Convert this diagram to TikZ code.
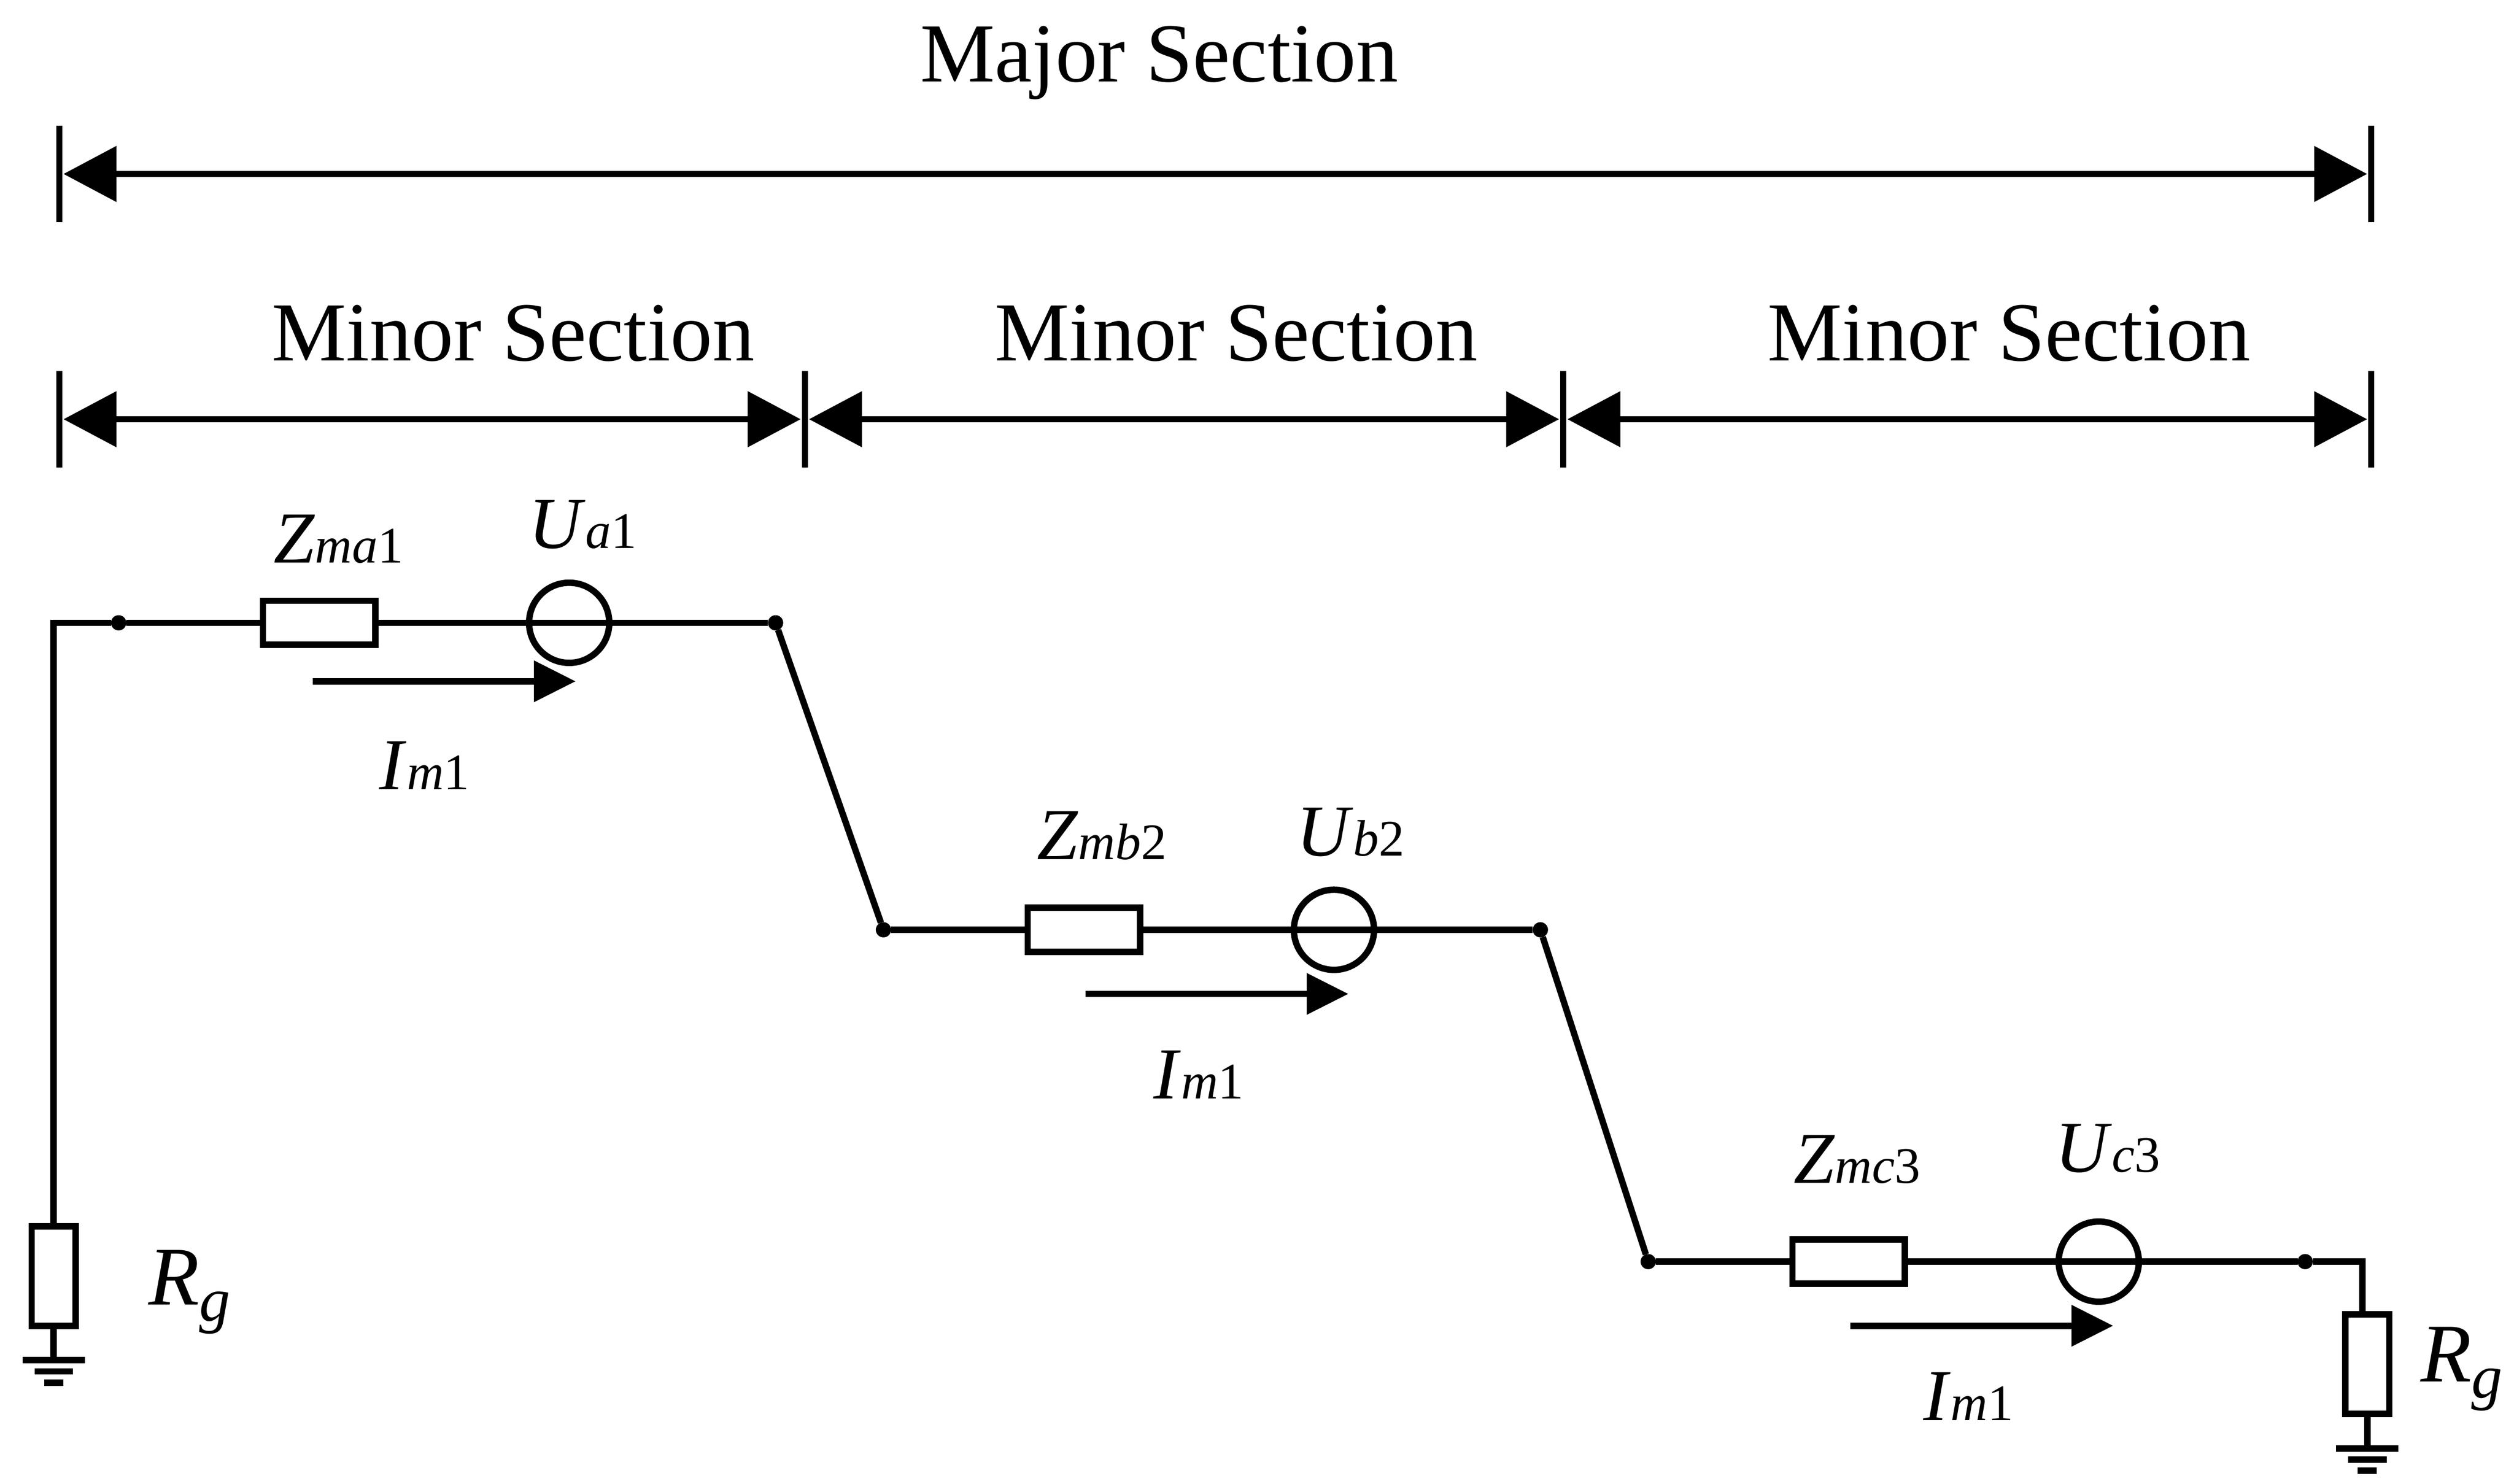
\documentclass[tikz,border=0pt]{standalone}
\usepackage{fontspec}
\setmainfont{Liberation Serif}
\usetikzlibrary{arrows.meta, positioning}
\newcommand{\elabel}[3]{\textit{#1}{\fontsize{9.1pt}{10pt}\selectfont\textit{#2}#3}}
\newcommand{\glabel}{\textit{R}\raisebox{-1mm}{\fontsize{11pt}{12pt}\selectfont\textit{g}}}

\begin{document}
\begin{tikzpicture}[
        x=0.1mm, y=-0.1mm,
        tick/.style={rectangle, fill=black, inner sep=0pt, minimum width=0.38mm, minimum height=6mm},
        dim/.style={{Triangle[length=3.3mm,width=3.4mm]}-{Triangle[length=3.3mm,width=3.4mm]}, line width=0.38mm},
        title/.style={anchor=base, inner sep=0pt, font=\fontsize{14.9pt}{16pt}\selectfont},
        lbl/.style={anchor=base west, inner sep=0pt, font=\fontsize{13pt}{15pt}\selectfont},
        wire/.style={line width=0.4mm},
        dot/.style={circle, fill=black, inner sep=0pt, outer sep=0pt, minimum size=0.95mm},
        res/.style={rectangle, draw, fill=white, line width=0.4mm, inner sep=0pt, outer sep=0pt, minimum width=7mm, minimum height=2.75mm},
        resv/.style={res, minimum width=2.75mm, minimum height=6.2mm},
        src/.style={circle, draw, line width=0.4mm, inner sep=0pt, outer sep=0pt, minimum size=5mm},
        arrow/.style={-{Triangle[length=2.6mm,width=2.5mm]}, line width=0.4mm},
        gnd/.pic={
            \draw[wire] (-19.5,0) -- (19.5,0);
            \draw[wire] (-12,7) -- (12,7);
            \draw[wire] (-6,14) -- (6,14);
        }
    ]
        \useasboundingbox (0,0) rectangle (1568,925.45);

        % section bars
        \node[title] (major) at (723,51) {Major Section};
        \node[tick] (ma) at (37,108.5) {};
        \node[tick] (mb) at (1479,108.5) {};
        \draw[dim] (ma) -- (mb);

        \node[title] (minora) at (320,225) {Minor Section};
        \node[title] (minorb) at (771,225) {Minor Section};
        \node[title] (minorc) at (1253,225) {Minor Section};
        \node[tick] (na) at (37,261.5) {};
        \node[tick] (nb) at (502,261.5) {};
        \node[tick] (nc) at (975,261.5) {};
        \node[tick] (nd) at (1479,261.5) {};
        \draw[dim] (na) -- (nb);
        \draw[dim] (nb) -- (nc);
        \draw[dim] (nc) -- (nd);

        % first stage
        \node[dot] (ja) at (74,388.5) {};
        \node[res, right=9mm of ja.center] (za) {};
        \node[src, right=9.6mm of za] (ua) {};
        \node[dot, right=9.9mm of ua] (jb) {};
        \coordinate (ia1) at (195,425);
        \coordinate (ia2) at (359,425);
        \node[lbl] (zal) at (170,351) {\elabel{Z}{ma}{1}};
        \node[lbl] (ual) at (329,342) {\elabel{U}{a}{1}};
        \node[lbl] (ial) at (236,492.5) {\elabel{I}{m}{1}};

        % second stage
        \node[dot] (jc) at (551,580) {};
        \node[res, right=9mm of jc.center] (zb) {};
        \node[src, right=9.6mm of zb] (ub) {};
        \node[dot, right=9.9mm of ub] (jd) {};
        \coordinate (ib1) at (677,620);
        \coordinate (ib2) at (841,620);
        \node[lbl] (zbl) at (646,536) {\elabel{Z}{mb}{2}};
        \node[lbl] (ubl) at (808,534) {\elabel{U}{b}{2}};
        \node[lbl] (ibl) at (719,685.5) {\elabel{I}{m}{1}};

        % third stage
        \node[dot] (je) at (1028,787) {};
        \node[res, right=9mm of je.center] (zc) {};
        \node[src, right=9.6mm of zc] (uc) {};
        \node[dot, right=9.9mm of uc] (jf) {};
        \coordinate (ic1) at (1154,827);
        \coordinate (ic2) at (1318,827);
        \node[lbl] (zcl) at (1118,738) {\elabel{Z}{mc}{3}};
        \node[lbl] (ucl) at (1281,731) {\elabel{U}{c}{3}};
        \node[lbl] (icl) at (1199,886) {\elabel{I}{m}{1}};

        % grounding resistors
        \node[resv] (rl) at (33.5,796) {};
        \node[lbl, font=\fontsize{14.8pt}{16pt}\selectfont] (rll) at (92,814) {\glabel};
        \coordinate[below=2.15mm of rl] (gl);
        \pic at (gl) {gnd};
        \node[resv] (rr) at (1476.5,851) {};
        \node[lbl, font=\fontsize{14.8pt}{16pt}\selectfont] (rrl) at (1509,862) {\glabel};
        \coordinate[below=2.15mm of rr] (gr);
        \pic at (gr) {gnd};
        \coordinate (rrt) at (1473.5,820);

        \draw[wire] (rl) |- (ja);
        \draw[wire] (ja) -- (za);
        \draw[wire] (za) -- (ua.center) -- (jb);
        \draw[wire] (jb) -- (jc);
        \draw[wire] (jc) -- (zb);
        \draw[wire] (zb) -- (ub.center) -- (jd);
        \draw[wire] (jd) -- (je);
        \draw[wire] (je) -- (zc);
        \draw[wire] (zc) -- (uc.center) -- (jf);
        \draw[wire] (jf) -| (rrt);
        \draw[wire] (rl) -- (gl);
        \draw[wire] (rr) -- (gr);

        \draw[arrow] (ia1) -- (ia2);
        \draw[arrow] (ib1) -- (ib2);
        \draw[arrow] (ic1) -- (ic2);
    \end{tikzpicture}
\end{document}
